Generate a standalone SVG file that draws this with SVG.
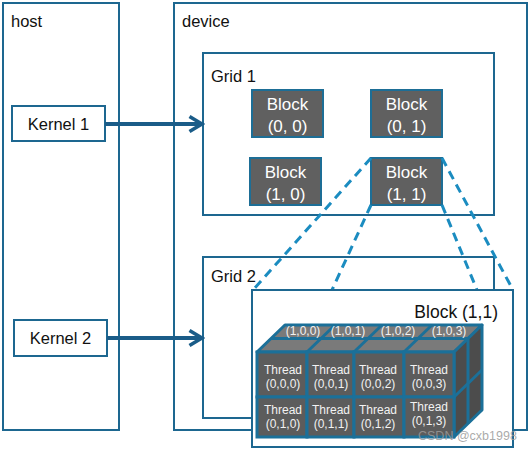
<svg xmlns="http://www.w3.org/2000/svg" width="532" height="451" viewBox="0 0 532 451">
<defs>
<style>
.frame{fill:#fff;stroke:#1d6790;stroke-width:2}
.lbl{font-family:"Liberation Sans",Arial,sans-serif;font-size:16.5px;fill:#111}
.blk{fill:#606060;stroke:#1d6e96;stroke-width:2}
.wt{font-family:"Liberation Sans",Arial,sans-serif;font-size:17px;fill:#fff;text-anchor:middle}
.cell{fill:#5c5c5c;stroke:#1b7099;stroke-width:3}
.top{fill:#7a7a7a;stroke:#1b7099;stroke-width:3;stroke-linejoin:round}
.side{fill:#4c4c4c;stroke:#1b7099;stroke-width:3;stroke-linejoin:round}
.tt{font-family:"Liberation Sans",Arial,sans-serif;font-size:12px;fill:#f2f2f2;text-anchor:middle}
.arrow{stroke:#1a5c88;stroke-width:4;fill:none}
.dash{stroke:#1b8cc0;stroke-width:3;fill:none;stroke-dasharray:9 6}
</style>
<marker id="ah" viewBox="0 0 12 12" refX="10" refY="6" markerWidth="5" markerHeight="5" markerUnits="strokeWidth" orient="auto">
<path d="M2.5,1.5 L10,6 L2.5,10.5" fill="none" stroke="#1a5c88" stroke-width="2.2" stroke-linejoin="miter"/>
</marker>
</defs>
<rect width="532" height="451" fill="#fff"/>

<g id="host">
<rect class="frame" x="3" y="3" width="116" height="427"/>
<text class="lbl" x="11" y="27">host</text>
</g>

<g id="device">
<rect class="frame" x="174" y="3" width="353" height="427"/>
<text class="lbl" x="182" y="27">device</text>
</g>

<g id="kernel1">
<rect class="frame" x="12" y="106" width="93" height="35"/>
<text class="lbl" x="58.5" y="130" text-anchor="middle">Kernel 1</text>
</g>

<g id="kernel2">
<rect class="frame" x="14" y="320" width="93" height="36"/>
<text class="lbl" x="60.5" y="344" text-anchor="middle">Kernel 2</text>
</g>

<g id="grid1">
<rect class="frame" x="203" y="53" width="291" height="162"/>
<text class="lbl" x="211" y="82">Grid 1</text>
</g>

<g id="block00">
<rect class="blk" x="252" y="90" width="71" height="47"/>
<text class="wt" x="287.5" y="110">Block</text>
<text class="wt" x="287.5" y="132">(0, 0)</text>
</g>
<g id="block01">
<rect class="blk" x="371" y="90" width="71" height="47"/>
<text class="wt" x="406.5" y="110">Block</text>
<text class="wt" x="406.5" y="132">(0, 1)</text>
</g>
<g id="block10">
<rect class="blk" x="250" y="158" width="71" height="47"/>
<text class="wt" x="285.5" y="178">Block</text>
<text class="wt" x="285.5" y="200">(1, 0)</text>
</g>
<g id="block11">
<rect class="blk" x="371" y="158" width="71" height="47"/>
<text class="wt" x="406.5" y="178">Block</text>
<text class="wt" x="406.5" y="200">(1, 1)</text>
</g>

<g id="grid2">
<rect class="frame" x="203" y="257" width="291" height="161"/>
<text class="lbl" x="211" y="282">Grid 2</text>
</g>

<g id="connectors">
<line class="arrow" x1="105" y1="124" x2="202" y2="124" marker-end="url(#ah)"/>
<line class="arrow" x1="107" y1="338" x2="202" y2="338" marker-end="url(#ah)"/>
<line class="dash" x1="371" y1="158" x2="253" y2="290"/>
<line class="dash" x1="371" y1="205" x2="332" y2="290"/>
<line class="dash" x1="442" y1="205" x2="477" y2="290"/>
<line class="dash" x1="442" y1="158" x2="513" y2="290"/>
</g>

<g id="blockDetail">
<rect class="frame" x="252" y="290" width="261" height="157"/>
<text class="lbl" x="498" y="318" text-anchor="end" style="font-size:17.5px">Block (1,1)</text>
<polygon class="top" points="257,352 454,352 482,325 285,325"/>
<line class="top" x1="271" y1="338.5" x2="468" y2="338.5"/>
<line class="top" x1="307" y1="352" x2="335" y2="325"/>
<line class="top" x1="354" y1="352" x2="382" y2="325"/>
<line class="top" x1="404" y1="352" x2="432" y2="325"/>
<polygon class="side" points="454,352 482,325 482,410 454,437"/>
<line class="side" x1="468" y1="338.5" x2="468" y2="423.5"/>
<line class="side" x1="454" y1="397" x2="482" y2="370"/>
<rect class="cell" x="257" y="352" width="50" height="45"/>
<rect class="cell" x="307" y="352" width="47" height="45"/>
<rect class="cell" x="354" y="352" width="50" height="45"/>
<rect class="cell" x="404" y="352" width="50" height="45"/>
<rect class="cell" x="257" y="397" width="50" height="40"/>
<rect class="cell" x="307" y="397" width="47" height="40"/>
<rect class="cell" x="354" y="397" width="50" height="40"/>
<rect class="cell" x="404" y="397" width="50" height="40"/>
<text class="tt" x="303" y="335">(1,0,0)</text>
<text class="tt" x="348" y="335">(1,0,1)</text>
<text class="tt" x="398" y="335">(1,0,2)</text>
<text class="tt" x="449" y="335">(1,0,3)</text>
<text class="tt" x="283" y="374">Thread</text>
<text class="tt" x="283" y="388">(0,0,0)</text>
<text class="tt" x="331" y="374">Thread</text>
<text class="tt" x="331" y="388">(0,0,1)</text>
<text class="tt" x="378" y="374">Thread</text>
<text class="tt" x="378" y="388">(0,0,2)</text>
<text class="tt" x="429" y="374">Thread</text>
<text class="tt" x="429" y="388">(0,0,3)</text>
<text class="tt" x="283" y="414">Thread</text>
<text class="tt" x="283" y="428">(0,1,0)</text>
<text class="tt" x="331" y="414">Thread</text>
<text class="tt" x="331" y="428">(0,1,1)</text>
<text class="tt" x="378" y="414">Thread</text>
<text class="tt" x="378" y="428">(0,1,2)</text>
<text class="tt" x="429" y="411">Thread</text>
<text class="tt" x="429" y="425">(0,1,3)</text>
</g>

<text x="418" y="440" style="font-family:'Liberation Sans',Arial,sans-serif;font-size:12.5px;fill:#9a9a9a;fill-opacity:0.85">CSDN @cxb1998</text>
</svg>
